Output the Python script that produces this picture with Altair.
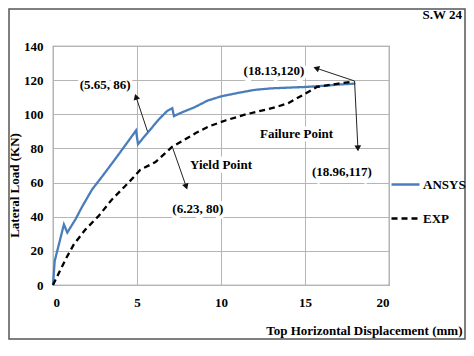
import math
import altair as alt
import pandas as pd

# ---- data ----
ansys_x = [0, 0.1, 0.65, 0.85, 1.34, 1.74, 2.33, 2.92, 3.72, 4.5, 4.94, 5.06, 5.7, 6.3, 6.8,
           7.1, 7.2, 7.65, 8.4, 9.2, 10.0, 11.0, 12.0, 13.0, 14.0, 15.0, 16.0, 17.0, 18.0]
ansys_y = [0, 14, 35.5, 30.7, 38.5, 46, 56, 63.5, 74, 84.5, 90.5, 82.5, 90, 97, 102,
           103.5, 99, 101, 104, 108, 110.5, 112.5, 114.3, 115.2, 115.6, 116, 116.6, 117.4, 118]
exp_x = [0, 0.4, 0.8, 1.25, 1.94, 2.73, 3.5, 4.5, 5.2, 6.1, 7.1, 8.5, 9.3, 10.3, 11.5,
         13.2, 14.0, 15.0, 15.7, 17.0, 17.8]
exp_y = [0, 8, 16, 24, 32.6, 40.6, 50, 60, 67.5, 72, 81, 89, 93, 96.5, 100,
         104, 106.5, 112, 116, 118, 119]
series_names = ["ANSYS", "EXP"]

# annotation labels (text, x, y in data units)
label_text = ["(5.65, 86)", "(18.13,120)", "Failure Point", "Yield Point", "(18.96,117)", "(6.23, 80)"]
label_x = [3.1, 13.15, 14.5, 10.0, 17.2, 8.62]
label_y = [117.2, 125.5, 88.4, 70.3, 66.4, 44.3]

# arrows: tail -> head (data units)
arrow_x1 = [5.63, 7.13, 17.95, 17.95]
arrow_y1 = [89.8, 80.1, 119.5, 119.5]
arrow_x2 = [4.94, 7.93, 15.67, 18.15]
arrow_y2 = [110.3, 57.6, 127.0, 80.1]

W, H = 336, 239
XMAX, YMAX = 20, 140

lines = pd.DataFrame(
    [{"x": x, "y": y, "series": "ANSYS"} for x, y in zip(ansys_x, ansys_y)]
    + [{"x": x, "y": y, "series": "EXP"} for x, y in zip(exp_x, exp_y)]
)
labels = pd.DataFrame({"text": label_text, "x": label_x, "y": label_y})

arr_rows = []
for x1, y1, x2, y2 in zip(arrow_x1, arrow_y1, arrow_x2, arrow_y2):
    px = (x2 - x1) * W / XMAX
    py = -(y2 - y1) * H / YMAX
    ang = math.degrees(math.atan2(px, -py)) % 360
    arr_rows.append({"x": x1, "y": y1, "x2": x2, "y2": y2, "angle": ang})
arrows = pd.DataFrame(arr_rows)

FONT = "Liberation Serif, Times New Roman, Times, serif"

xs = alt.Scale(domain=[0, XMAX], nice=False)
ys = alt.Scale(domain=[0, YMAX], nice=False)
x_axis = alt.Axis(values=[0, 5, 10, 15, 20], title="Top Horizontal Displacement (mm)",
                  titleX=409, titleY=49, titleAlign="right", titleAnchor="end",
                  titleBaseline="alphabetic", labelPadding=11, labelOverlap=False)
y_axis = alt.Axis(values=list(range(0, 141, 20)), title="Lateral Load (KN)",
                  titleX=-39, titleY=139, titleAngle=270, titleAlign="center",
                  titleBaseline="middle", titleAnchor="middle", labelPadding=10,
                  labelOverlap=False)
X = alt.X("x:Q", scale=xs, axis=x_axis)
Y = alt.Y("y:Q", scale=ys, axis=y_axis)

leg = alt.Legend(
    title=None, orient="none", legendX=337, legendY=123,
    symbolType="stroke", symbolSize=784, symbolStrokeWidth=2.5,
    labelFont=FONT, labelFontSize=13, labelFontWeight="bold", labelColor="black",
    labelOffset=2, rowPadding=11, padding=0,
)

base_lines = alt.Chart(lines).mark_line(strokeWidth=2.3).encode(
    x=X, y=Y,
    color=alt.Color("series:N", scale=alt.Scale(domain=series_names, range=["#4a7ebb", "#000000"]), legend=leg),
    strokeDash=alt.StrokeDash("series:N", scale=alt.Scale(domain=series_names, range=[[1, 0], [6, 4]]), legend=leg),
)

halo = alt.Chart(labels).mark_text(
    font=FONT, fontSize=13, fontWeight="bold", stroke="white", strokeWidth=7, color="white"
).encode(x=X, y=Y, text="text:N")

label_marks = alt.Chart(labels).mark_text(
    font=FONT, fontSize=13, fontWeight="bold", color="black"
).encode(x=X, y=Y, text="text:N")

arrow_lines = alt.Chart(arrows).mark_rule(color="#222222", strokeWidth=1).encode(
    x=X, y=Y, x2="x2:Q", y2="y2:Q"
)
arrow_heads = alt.Chart(arrows).mark_point(
    shape="triangle-up", filled=True, color="#111111", size=45, opacity=1
).encode(x=alt.X("x2:Q", scale=xs, axis=x_axis), y=alt.Y("y2:Q", scale=ys, axis=y_axis),
         angle=alt.Angle("angle:Q", scale=None))

blank = alt.Data(values=[{}])
frame = alt.Chart(blank).mark_rect(fill=None, stroke="#555555", strokeWidth=1.5).encode(
    x=alt.value(-44), x2=alt.value(412), y=alt.value(-37), y2=alt.value(293)
)
sw_title = alt.Chart(blank).mark_text(
    text="S.W 24", font=FONT, fontSize=13, fontWeight="bold", align="right", baseline="alphabetic", color="black"
).encode(x=alt.value(409), y=alt.value(-27))

chart = alt.layer(
    base_lines, halo, label_marks, arrow_lines, arrow_heads, frame, sw_title
).properties(
    width=W, height=H,
    autosize=alt.AutoSizeParams(type="none"),
    padding={"left": 45, "top": 38, "right": 77, "bottom": 63},
    background="white",
).configure_view(
    stroke="#7f7f7f", strokeWidth=1.2
).configure_axis(
    grid=True, gridColor="#b5b5b5", gridWidth=1, domain=False, ticks=False,
    labelFont=FONT, labelFontSize=13, labelFontWeight="bold", labelColor="black",
    titleFont=FONT, titleFontSize=13, titleFontWeight="bold", titleColor="black",
)

chart.save("out.html", embed_options={"renderer": "svg", "actions": False})
